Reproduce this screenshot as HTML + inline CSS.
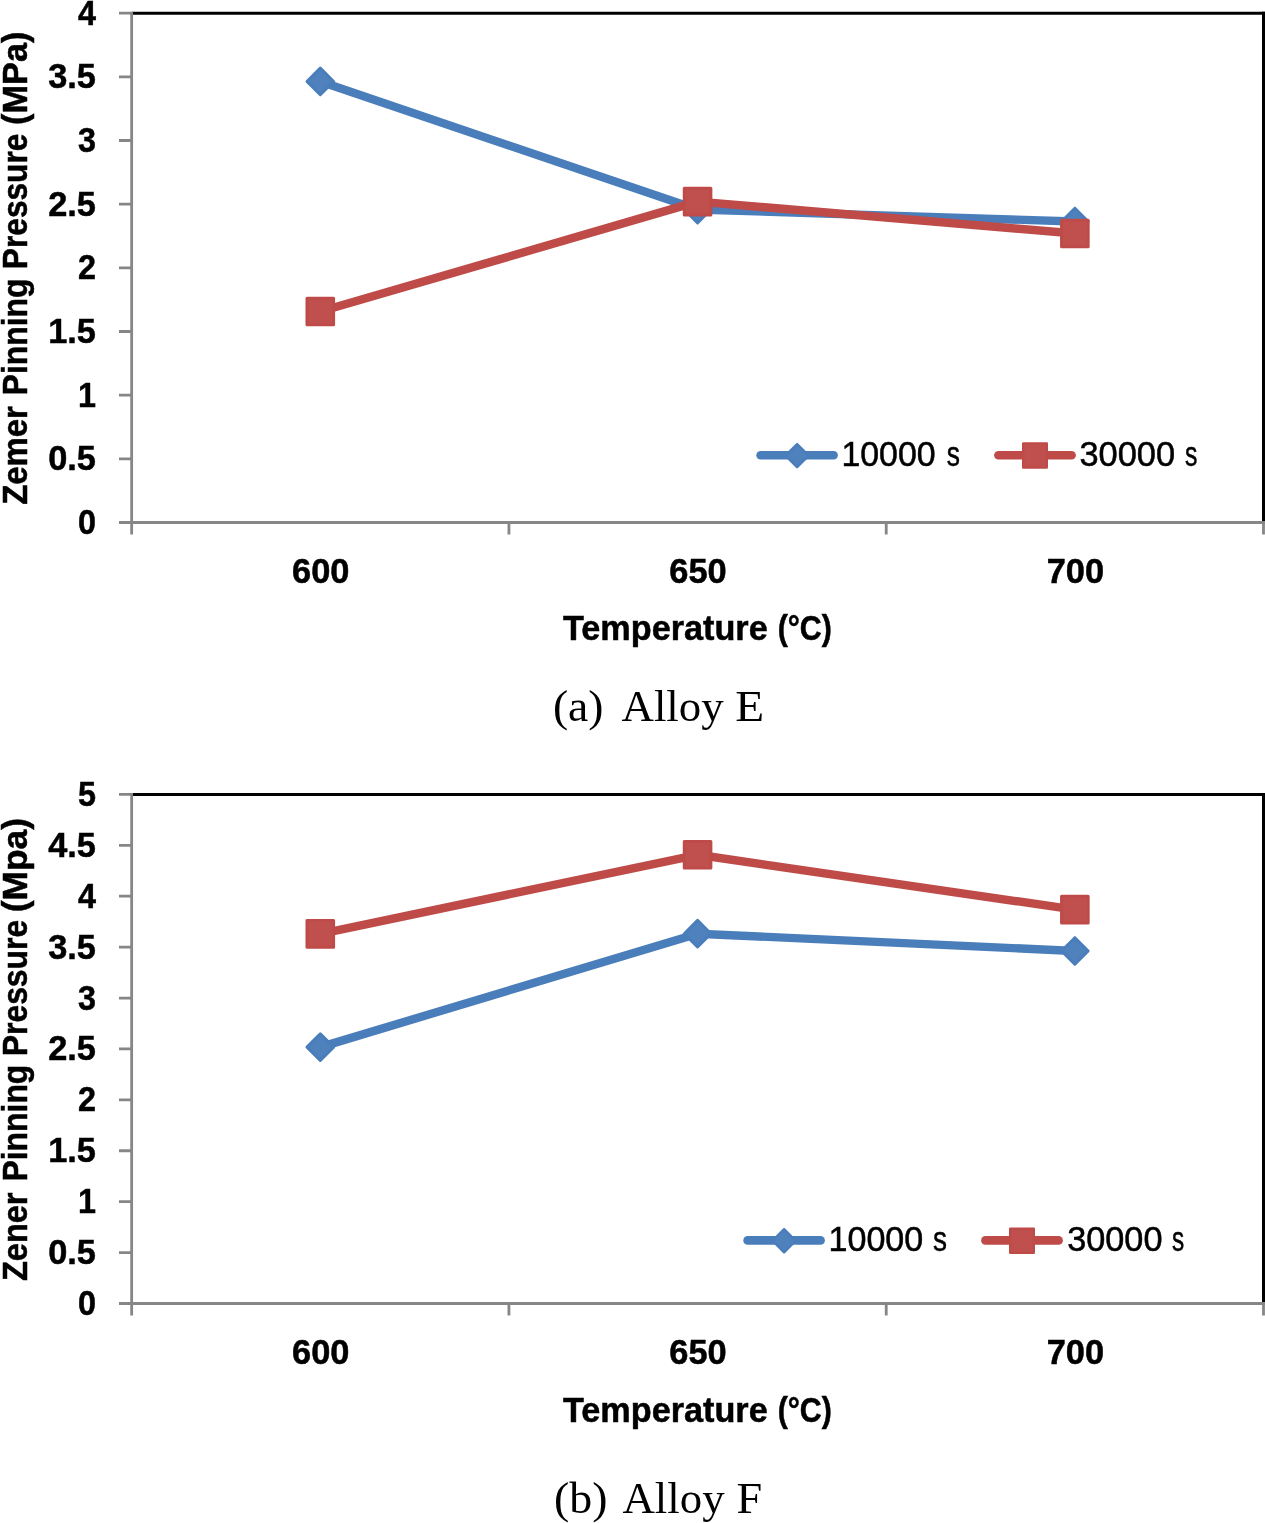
<!DOCTYPE html>
<html lang="en"><head><meta charset="utf-8"><title>Zener pinning pressure vs temperature</title>
<style>html,body{margin:0;padding:0;background:#fff}svg{display:block}text{fill:#000;white-space:pre}</style></head><body>
<svg width="1265" height="1523" viewBox="0 0 1265 1523">
<rect width="1265" height="1523" fill="#fff"/>
<g id="chart1">
<path d="M131.65 13.2H1267" stroke="#000" stroke-width="3" fill="none"/>
<path d="M1263.5 11.7V521.0" stroke="#000" stroke-width="3" fill="none"/>
<path d="M119 522.50H131.65M119 458.84H131.65M119 395.18H131.65M119 331.51H131.65M119 267.85H131.65M119 204.19H131.65M119 140.52H131.65M119 76.86H131.65M119 13.20H131.65M131.65 522.5V534.5M508.93 522.5V534.5M886.22 522.5V534.5M1263.50 522.5V534.5M131.65 11.7V522.5M119 522.5H1265.0" stroke="#868686" stroke-width="2.8" fill="none"/>
<g font-family="'Liberation Sans', sans-serif" font-weight="700" font-size="35.6" text-anchor="end" stroke="#000" stroke-width="0.5">
<text x="96.0" y="534.00" textLength="18.0" lengthAdjust="spacingAndGlyphs">0</text>
<text x="96.0" y="470.34" textLength="47.8" lengthAdjust="spacingAndGlyphs">0.5</text>
<text x="96.0" y="406.68" textLength="18.0" lengthAdjust="spacingAndGlyphs">1</text>
<text x="96.0" y="343.01" textLength="47.8" lengthAdjust="spacingAndGlyphs">1.5</text>
<text x="96.0" y="279.35" textLength="18.0" lengthAdjust="spacingAndGlyphs">2</text>
<text x="96.0" y="215.69" textLength="47.8" lengthAdjust="spacingAndGlyphs">2.5</text>
<text x="96.0" y="152.02" textLength="18.0" lengthAdjust="spacingAndGlyphs">3</text>
<text x="96.0" y="88.36" textLength="47.8" lengthAdjust="spacingAndGlyphs">3.5</text>
<text x="96.0" y="24.70" textLength="18.0" lengthAdjust="spacingAndGlyphs">4</text>
</g>
<g font-family="'Liberation Sans', sans-serif" font-weight="700" font-size="35.6" text-anchor="middle" stroke="#000" stroke-width="0.5">
<text x="320.79" y="582.50" textLength="57.4" lengthAdjust="spacingAndGlyphs">600</text>
<text x="698.07" y="582.50" textLength="57.4" lengthAdjust="spacingAndGlyphs">650</text>
<text x="1075.36" y="582.50" textLength="57.4" lengthAdjust="spacingAndGlyphs">700</text>
</g>
<text y="640.4" font-family="'Liberation Sans', sans-serif" font-size="34.6" font-weight="700" stroke="#000" stroke-width="0.5"><tspan x="562.90" textLength="204.80" lengthAdjust="spacingAndGlyphs">Temperature</tspan> <tspan x="777.70" textLength="54.10" lengthAdjust="spacingAndGlyphs">(°C)</tspan></text>
<text transform="translate(27.0 0) rotate(-90)" y="0" font-family="'Liberation Sans', sans-serif" font-size="35.2" font-weight="700" stroke="#000" stroke-width="0.5"><tspan x="-504.80" textLength="98.70" lengthAdjust="spacingAndGlyphs">Zemer</tspan> <tspan x="-395.40" textLength="116.90" lengthAdjust="spacingAndGlyphs">Pinning</tspan> <tspan x="-269.20" textLength="135.60" lengthAdjust="spacingAndGlyphs">Pressure</tspan> <tspan x="-125.00" textLength="93.40" lengthAdjust="spacingAndGlyphs">(MPa)</tspan></text>
<polyline points="320.29,81.45 697.57,209.54 1074.86,221.50" fill="none" stroke="#4a7ebb" stroke-width="8.4" stroke-linecap="round" stroke-linejoin="round"/>
<path d="M320.29 68.15L333.59 81.45L320.29 94.75L306.99 81.45Z" fill="#4f81bd" stroke="#4a7ebb" stroke-width="3" stroke-linejoin="round"/>
<path d="M697.57 196.24L710.87 209.54L697.57 222.84L684.27 209.54Z" fill="#4f81bd" stroke="#4a7ebb" stroke-width="3" stroke-linejoin="round"/>
<path d="M1074.86 208.20L1088.16 221.50L1074.86 234.80L1061.56 221.50Z" fill="#4f81bd" stroke="#4a7ebb" stroke-width="3" stroke-linejoin="round"/>
<polyline points="320.29,311.52 697.57,201.64 1074.86,233.47" fill="none" stroke="#be4b48" stroke-width="8.4" stroke-linecap="round" stroke-linejoin="round"/>
<rect x="306.99" y="298.22" width="26.6" height="26.6" fill="#c0504d" stroke="#be4b48" stroke-width="3" stroke-linejoin="round"/>
<rect x="684.27" y="188.34" width="26.6" height="26.6" fill="#c0504d" stroke="#be4b48" stroke-width="3" stroke-linejoin="round"/>
<rect x="1061.56" y="220.17" width="26.6" height="26.6" fill="#c0504d" stroke="#be4b48" stroke-width="3" stroke-linejoin="round"/>
<path d="M760.65 455.25H833.55" stroke="#4a7ebb" stroke-width="8.7" stroke-linecap="round"/>
<path d="M797.10 444.00L808.70 455.60L797.10 467.20L785.50 455.60Z" fill="#4f81bd" stroke="#4a7ebb" stroke-width="2.4" stroke-linejoin="round"/>
<path d="M998.45 455.25H1071.55" stroke="#be4b48" stroke-width="8.7" stroke-linecap="round"/>
<rect x="1023.20" y="443.55" width="23.6" height="24.0" fill="#c0504d" stroke="#be4b48" stroke-width="2.4" stroke-linejoin="round"/>
<text y="465.5" font-family="'Liberation Sans', sans-serif" font-size="34.7" font-weight="400" stroke="#000" stroke-width="0.5"><tspan x="841.40" textLength="94.20" lengthAdjust="spacingAndGlyphs">10000</tspan> <tspan x="946.70" textLength="13.20" lengthAdjust="spacingAndGlyphs">s</tspan></text>
<text y="465.5" font-family="'Liberation Sans', sans-serif" font-size="34.7" font-weight="400" stroke="#000" stroke-width="0.5"><tspan x="1079.40" textLength="95.70" lengthAdjust="spacingAndGlyphs">30000</tspan> <tspan x="1184.90" textLength="12.40" lengthAdjust="spacingAndGlyphs">s</tspan></text>
</g>
<text y="720.8" font-family="'Liberation Serif', serif" font-size="44.6" font-weight="400"><tspan x="552.90" textLength="50.60" lengthAdjust="spacingAndGlyphs">(a)</tspan> <tspan x="621.50" textLength="102.20" lengthAdjust="spacingAndGlyphs">Alloy</tspan> <tspan x="735.30" textLength="28.90" lengthAdjust="spacingAndGlyphs">E</tspan></text>
<g id="chart2">
<path d="M131.65 794.4H1267" stroke="#000" stroke-width="3" fill="none"/>
<path d="M1263.5 792.9V1302.0" stroke="#000" stroke-width="3" fill="none"/>
<path d="M119 1303.50H131.65M119 1252.59H131.65M119 1201.68H131.65M119 1150.77H131.65M119 1099.86H131.65M119 1048.95H131.65M119 998.04H131.65M119 947.13H131.65M119 896.22H131.65M119 845.31H131.65M119 794.40H131.65M131.65 1303.5V1315.5M508.93 1303.5V1315.5M886.22 1303.5V1315.5M1263.50 1303.5V1315.5M131.65 792.9V1303.5M119 1303.5H1265.0" stroke="#868686" stroke-width="2.8" fill="none"/>
<g font-family="'Liberation Sans', sans-serif" font-weight="700" font-size="35.6" text-anchor="end" stroke="#000" stroke-width="0.5">
<text x="96.0" y="1315.00" textLength="18.0" lengthAdjust="spacingAndGlyphs">0</text>
<text x="96.0" y="1264.09" textLength="47.8" lengthAdjust="spacingAndGlyphs">0.5</text>
<text x="96.0" y="1213.18" textLength="18.0" lengthAdjust="spacingAndGlyphs">1</text>
<text x="96.0" y="1162.27" textLength="47.8" lengthAdjust="spacingAndGlyphs">1.5</text>
<text x="96.0" y="1111.36" textLength="18.0" lengthAdjust="spacingAndGlyphs">2</text>
<text x="96.0" y="1060.45" textLength="47.8" lengthAdjust="spacingAndGlyphs">2.5</text>
<text x="96.0" y="1009.54" textLength="18.0" lengthAdjust="spacingAndGlyphs">3</text>
<text x="96.0" y="958.63" textLength="47.8" lengthAdjust="spacingAndGlyphs">3.5</text>
<text x="96.0" y="907.72" textLength="18.0" lengthAdjust="spacingAndGlyphs">4</text>
<text x="96.0" y="856.81" textLength="47.8" lengthAdjust="spacingAndGlyphs">4.5</text>
<text x="96.0" y="805.90" textLength="18.0" lengthAdjust="spacingAndGlyphs">5</text>
</g>
<g font-family="'Liberation Sans', sans-serif" font-weight="700" font-size="35.6" text-anchor="middle" stroke="#000" stroke-width="0.5">
<text x="320.79" y="1363.50" textLength="57.4" lengthAdjust="spacingAndGlyphs">600</text>
<text x="698.07" y="1363.50" textLength="57.4" lengthAdjust="spacingAndGlyphs">650</text>
<text x="1075.36" y="1363.50" textLength="57.4" lengthAdjust="spacingAndGlyphs">700</text>
</g>
<text y="1421.5" font-family="'Liberation Sans', sans-serif" font-size="34.6" font-weight="700" stroke="#000" stroke-width="0.5"><tspan x="562.90" textLength="204.80" lengthAdjust="spacingAndGlyphs">Temperature</tspan> <tspan x="777.70" textLength="54.10" lengthAdjust="spacingAndGlyphs">(°C)</tspan></text>
<text transform="translate(27.0 0) rotate(-90)" y="0" font-family="'Liberation Sans', sans-serif" font-size="35.2" font-weight="700" stroke="#000" stroke-width="0.5"><tspan x="-1281.00" textLength="88.50" lengthAdjust="spacingAndGlyphs">Zener</tspan> <tspan x="-1181.50" textLength="116.80" lengthAdjust="spacingAndGlyphs">Pinning</tspan> <tspan x="-1056.20" textLength="136.30" lengthAdjust="spacingAndGlyphs">Pressure</tspan> <tspan x="-912.30" textLength="94.30" lengthAdjust="spacingAndGlyphs">(Mpa)</tspan></text>
<polyline points="320.29,1047.12 697.57,933.69 1074.86,951.00" fill="none" stroke="#4a7ebb" stroke-width="8.4" stroke-linecap="round" stroke-linejoin="round"/>
<path d="M320.29 1033.82L333.59 1047.12L320.29 1060.42L306.99 1047.12Z" fill="#4f81bd" stroke="#4a7ebb" stroke-width="3" stroke-linejoin="round"/>
<path d="M697.57 920.39L710.87 933.69L697.57 946.99L684.27 933.69Z" fill="#4f81bd" stroke="#4a7ebb" stroke-width="3" stroke-linejoin="round"/>
<path d="M1074.86 937.70L1088.16 951.00L1074.86 964.30L1061.56 951.00Z" fill="#4f81bd" stroke="#4a7ebb" stroke-width="3" stroke-linejoin="round"/>
<polyline points="320.29,933.89 697.57,854.78 1074.86,909.66" fill="none" stroke="#be4b48" stroke-width="8.4" stroke-linecap="round" stroke-linejoin="round"/>
<rect x="306.99" y="920.59" width="26.6" height="26.6" fill="#c0504d" stroke="#be4b48" stroke-width="3" stroke-linejoin="round"/>
<rect x="684.27" y="841.48" width="26.6" height="26.6" fill="#c0504d" stroke="#be4b48" stroke-width="3" stroke-linejoin="round"/>
<rect x="1061.56" y="896.36" width="26.6" height="26.6" fill="#c0504d" stroke="#be4b48" stroke-width="3" stroke-linejoin="round"/>
<path d="M747.65 1240.4H820.55" stroke="#4a7ebb" stroke-width="8.7" stroke-linecap="round"/>
<path d="M784.10 1229.15L795.70 1240.75L784.10 1252.35L772.50 1240.75Z" fill="#4f81bd" stroke="#4a7ebb" stroke-width="2.4" stroke-linejoin="round"/>
<path d="M985.45 1240.4H1058.55" stroke="#be4b48" stroke-width="8.7" stroke-linecap="round"/>
<rect x="1010.20" y="1228.70" width="23.6" height="24.0" fill="#c0504d" stroke="#be4b48" stroke-width="2.4" stroke-linejoin="round"/>
<text y="1250.7" font-family="'Liberation Sans', sans-serif" font-size="34.7" font-weight="400" stroke="#000" stroke-width="0.5"><tspan x="828.50" textLength="94.80" lengthAdjust="spacingAndGlyphs">10000</tspan> <tspan x="932.90" textLength="14.00" lengthAdjust="spacingAndGlyphs">s</tspan></text>
<text y="1250.7" font-family="'Liberation Sans', sans-serif" font-size="34.7" font-weight="400" stroke="#000" stroke-width="0.5"><tspan x="1067.20" textLength="95.30" lengthAdjust="spacingAndGlyphs">30000</tspan> <tspan x="1171.90" textLength="12.20" lengthAdjust="spacingAndGlyphs">s</tspan></text>
</g>
<text y="1512.7" font-family="'Liberation Serif', serif" font-size="44.6" font-weight="400"><tspan x="554.00" textLength="53.40" lengthAdjust="spacingAndGlyphs">(b)</tspan> <tspan x="622.50" textLength="102.10" lengthAdjust="spacingAndGlyphs">Alloy</tspan> <tspan x="736.50" textLength="25.70" lengthAdjust="spacingAndGlyphs">F</tspan></text>
</svg></body></html>
